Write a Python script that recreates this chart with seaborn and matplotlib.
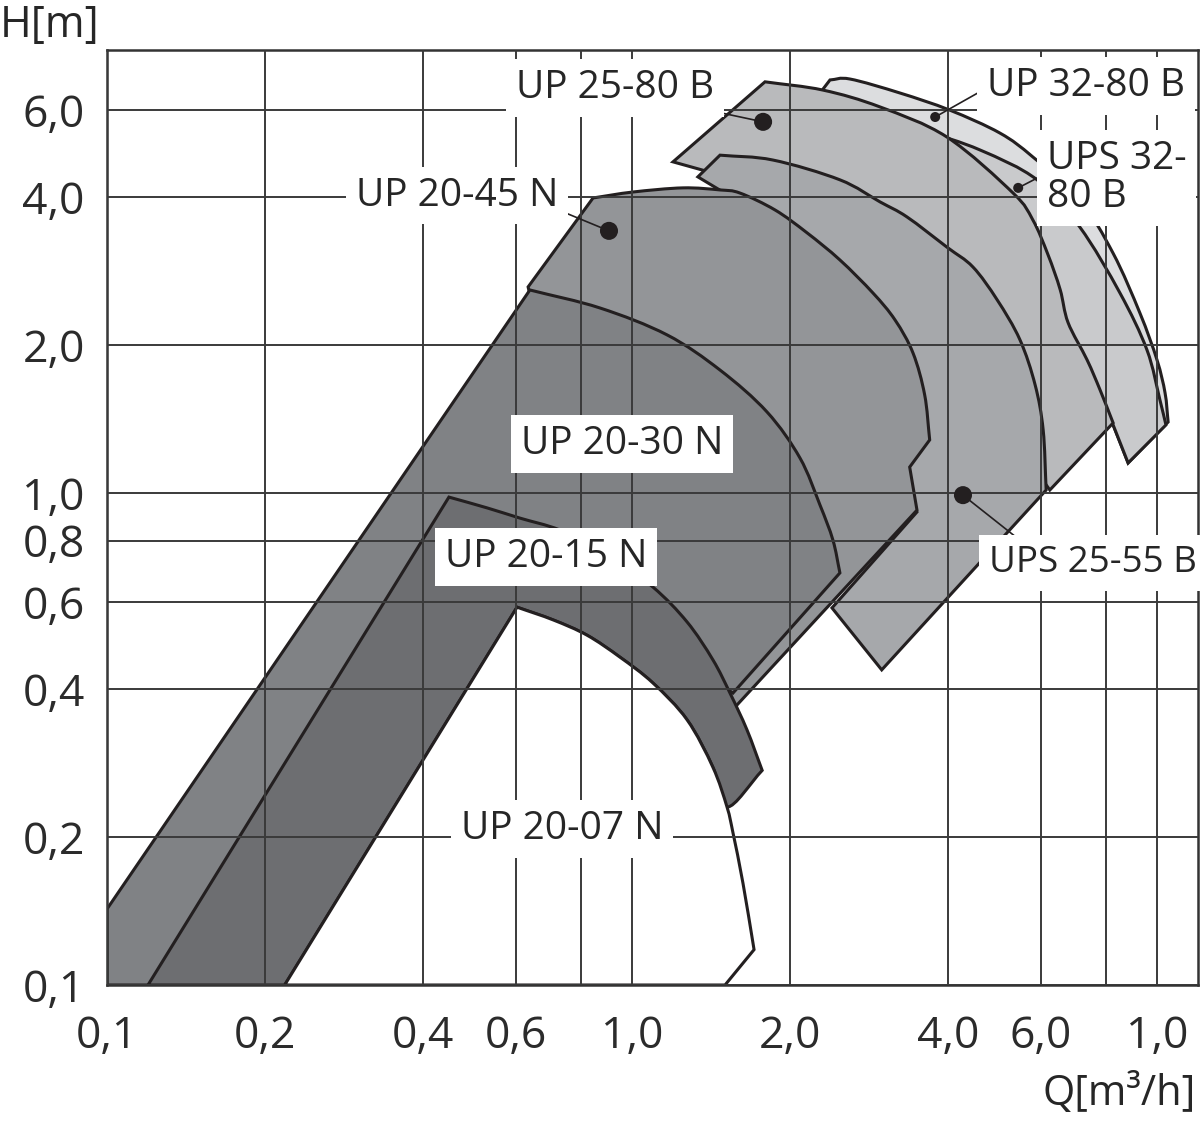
import matplotlib
matplotlib.use("Agg")
import numpy as np
import matplotlib.pyplot as plt
from matplotlib.path import Path
from matplotlib.patches import PathPatch
from matplotlib.ticker import NullLocator, FixedLocator, FixedFormatter
import pandas as pd
import seaborn as sns

# ---------------- data (Q in m3/h, H in m) ----------------
x_ticks = [0.1, 0.2, 0.4, 0.6, 0.8, 1.0, 2.0, 4.0, 6.0, 8.0, 10.0]
x_labels = ["0,1", "0,2", "0,4", "0,6", "", "1,0", "2,0", "4,0", "6,0", "", "1,0"]
y_ticks = [0.1, 0.2, 0.4, 0.6, 0.8, 1.0, 2.0, 4.0, 6.0]
y_labels = ["0,1", "0,2", "0,4", "0,6", "0,8", "1,0", "2,0", "4,0", "6,0"]

up3280b_q = [2.311, 2.383, 2.602, 3.24, 4.03, 5.02, 5.80, 7.13, 8.25, 9.28, 10.0, 10.36, 10.50,
             8.81, 8.25, 7.79, 6.54, 5.73, 4.81, 4.03, 2.968, 2.311]
up3280b_h = [6.62, 6.91, 6.94, 6.50, 6.00, 5.39, 4.82, 3.94, 3.07, 2.32, 1.864, 1.597, 1.394,
             1.151, 1.375, 1.407, 2.247, 3.27, 4.13, 4.98, 5.95, 6.53]
up3280b_smooth = list(range(2, 12))

ups3280b_q = [3.58, 4.60, 5.91, 7.13, 8.50, 9.57, 10.13, 10.40, 8.81, 8.25, 7.79, 6.54, 5.73, 4.81, 4.03, 3.58]
ups3280b_h = [5.47, 4.98, 4.33, 3.47, 2.55, 1.953, 1.545, 1.375, 1.151, 1.375, 1.407, 2.247, 3.27, 4.13, 4.98, 5.34]
ups3280b_smooth = list(range(1, 7))

up2580b_q = [1.792, 2.311, 2.968, 3.98, 5.32, 5.80, 6.20, 6.54, 6.77, 7.36, 7.79, 8.25, 6.25,
             5.02, 2.602, 1.471, 1.197]
up2580b_h = [6.85, 6.59, 6.09, 5.29, 4.07, 3.59, 3.05, 2.59, 2.22, 1.864, 1.62, 1.388, 1.014,
             1.407, 3.12, 4.43, 4.71]
up2580b_smooth = list(range(1, 11))

ups2555b_q = [1.335, 1.471, 1.856, 2.489, 2.968, 3.34, 3.98, 4.46, 4.96, 5.48, 5.86, 6.07, 6.15,
              2.99, 2.404, 3.49, 3.31, 2.968, 1.491]
ups2555b_h = [4.39, 4.86, 4.75, 4.33, 3.905, 3.64, 3.16, 2.88, 2.47, 2.05, 1.658, 1.343, 1.014,
              0.437, 0.584, 0.915, 1.062, 1.223, 4.09]
ups2555b_smooth = list(range(2, 12))

up2045n_q = [0.634, 0.843, 1.004, 1.250, 1.471, 1.606, 1.873, 2.154, 2.489, 2.877, 3.17, 3.43,
             3.61, 3.69, 3.38, 3.49, 1.504, 0.869]
up2045n_h = [2.623, 3.978, 4.09, 4.17, 4.13, 4.07, 3.76, 3.38, 2.976, 2.55, 2.247, 1.925,
             1.582, 1.282, 1.129, 0.923, 0.349, 0.606]
up2045n_smooth = list(range(2, 13))

up2030n_q = [0.1, 0.1, 0.639, 0.869, 1.166, 1.471, 1.808, 2.089, 2.280, 2.414, 2.489, 1.557, 0.869, 0.1504]
up2030n_h = [0.1, 0.1427, 2.586, 2.377, 2.096, 1.778, 1.461, 1.178, 0.946, 0.802, 0.688, 0.392, 0.606, 0.1]
up2030n_smooth = list(range(3, 10))

up2015n_q = [0.1197, 0.448, 0.529, 0.612, 0.729, 0.889, 1.096, 1.273, 1.426, 1.537, 1.656, 1.770,
             1.517, 1.426, 1.273, 1.096, 0.948, 0.821, 0.708, 0.604, 0.218]
up2015n_h = [0.1, 0.981, 0.933, 0.889, 0.841, 0.759, 0.644, 0.547, 0.458, 0.392, 0.330, 0.273,
             0.230, 0.277, 0.346, 0.411, 0.464, 0.514, 0.552, 0.586, 0.1]
up2015n_smooth = list(range(2, 11)) + list(range(12, 19))

up2007n_q = [0.218, 0.604, 0.708, 0.821, 0.948, 1.096, 1.273, 1.426, 1.517, 1.557, 1.627, 1.708, 1.504]
up2007n_h = [0.1, 0.586, 0.552, 0.514, 0.464, 0.411, 0.346, 0.277, 0.230, 0.204, 0.161, 0.118, 0.1]
up2007n_smooth = list(range(2, 11))

region_names = ["UP 32-80 B", "UPS 32-80 B", "UP 25-80 B", "UPS 25-55 B",
                "UP 20-45 N", "UP 20-30 N", "UP 20-15 N", "UP 20-07 N"]
region_colors = ["#dcdddf", "#c9cacc", "#b9babc", "#a6a8ab",
                 "#939598", "#808285", "#6d6e71", "#ffffff"]

# marker dots
dot_names = ["UP 25-80 B", "UP 20-45 N", "UP 32-80 B", "UPS 32-80 B", "UPS 25-55 B"]
dot_q = [1.777, 0.904, 3.78, 5.44, 4.27]
dot_h = [5.68, 3.41, 5.81, 4.17, 0.99]
dot_size = [169, 169, 52, 52, 169]

# labels with leader-line starting points
label_text = ["UP 25-80 B", "UP 20-45 N", "UP 32-80 B", "UPS 32-\n80 B", "UPS 25-55 B",
              "UP 20-30 N", "UP 20-15 N", "UP 20-07 N"]
label_q = [0.928, 0.464, 7.32, 6.17, 7.55, 0.957, 0.686, 0.736]
label_h = [6.66, 4.02, 6.72, 4.37, 0.7207, 1.258, 0.741, 0.2075]
label_ha = ["center", "center", "center", "left", "center", "center", "center", "center"]
leader_q = [1.279, 0.707, 4.66, 6.07, 5.48]
leader_h = [6.12, 3.80, 6.59, 4.43, 0.802]


def smooth_outline(q, h, smooth):
    """Closed outline through the read points; curved (Catmull-Rom) at smooth points."""
    P = np.column_stack([np.log10(q), np.log10(h)])
    n = len(P)
    sm = set(smooth)
    verts = [P[0]]
    codes = [Path.MOVETO]
    for i in range(n):
        j = (i + 1) % n
        a, b = P[i], P[j]
        ta = (P[j] - P[i - 1]) / 2 if i in sm else (b - a)
        tb = (P[(j + 1) % n] - P[i]) / 2 if j in sm else (b - a)
        verts += [a + ta / 3, b - tb / 3, b]
        codes += [Path.CURVE4] * 3
    verts.append(P[0])
    codes.append(Path.CLOSEPOLY)
    return Path(10 ** np.array(verts), codes)


# ---------------- drawing ----------------
sns.set_style("white")
plt.rcParams["font.family"] = ["Open Sans", "DejaVu Sans"]

fig = plt.figure(figsize=(12, 11.24), dpi=100)
ax = fig.add_axes([107 / 1200, 1 - 985 / 1124, (1198 - 107) / 1200, (985 - 50) / 1124])
ax.set_xscale("log")
ax.set_yscale("log")
ax.set_xlim(0.1, 11.97)
ax.set_ylim(0.1, 7.95)

regions_q = [up3280b_q, ups3280b_q, up2580b_q, ups2555b_q, up2045n_q, up2030n_q, up2015n_q, up2007n_q]
regions_h = [up3280b_h, ups3280b_h, up2580b_h, ups2555b_h, up2045n_h, up2030n_h, up2015n_h, up2007n_h]
regions_s = [up3280b_smooth, ups3280b_smooth, up2580b_smooth, ups2555b_smooth,
             up2045n_smooth, up2030n_smooth, up2015n_smooth, up2007n_smooth]
for i, (q, h, sm, c) in enumerate(zip(regions_q, regions_h, regions_s, region_colors)):
    patch = PathPatch(smooth_outline(q, h, sm), facecolor=c, edgecolor="#231f20",
                      linewidth=2.2, joinstyle="miter", zorder=1 + i * 0.01)
    ax.add_patch(patch)

# grid over the regions
ax.set_axisbelow(False)
ax.xaxis.set_major_locator(FixedLocator(x_ticks))
ax.xaxis.set_major_formatter(FixedFormatter(x_labels))
ax.yaxis.set_major_locator(FixedLocator(y_ticks))
ax.yaxis.set_major_formatter(FixedFormatter(y_labels))
ax.xaxis.set_minor_locator(NullLocator())
ax.yaxis.set_minor_locator(NullLocator())
ax.grid(True, color="#3a3a3a", linewidth=1.4)
ax.tick_params(axis="both", length=0, labelsize=32, colors="#2b2b2b")
ax.tick_params(axis="x", pad=21)
ax.tick_params(axis="y", pad=16)
for s in ax.spines.values():
    s.set_color("#333333")
    s.set_linewidth(1.8)
    s.set_visible(True)

# leader lines
for lq, lh, dq, dh in zip(leader_q, leader_h, dot_q, dot_h):
    ax.plot([lq, dq], [lh, dh], color="#231f20", lw=1.2, zorder=3.5)

# dots
dots = pd.DataFrame({"name": dot_names, "Q": dot_q, "H": dot_h, "s": dot_size})
sns.scatterplot(data=dots, x="Q", y="H", size="s", sizes=(52, 169), color="#231f20",
                edgecolor="none", legend=False, ax=ax, zorder=4)

# labels
for t, q, h, ha in zip(label_text, label_q, label_h, label_ha):
    fs = 26.5 if t == "UPS 25-55 B" else 28
    ax.text(q, h, t, ha=ha, va="center", fontsize=fs, color="#262626", zorder=3.6,
            linespacing=1.0,
            bbox=dict(facecolor="white", edgecolor="none", pad=7))

ax.set_xlabel("")
ax.set_ylabel("")
fig.text(0.0, 1 - 37 / 1124, "H[m]", ha="left", va="baseline", fontsize=31, color="#262626")
fig.text(1196 / 1200, 1 - 1105 / 1124, "Q[m³/h]", ha="right", va="baseline", fontsize=30, color="#262626")

fig.savefig("out.png", dpi=100, facecolor="white")
